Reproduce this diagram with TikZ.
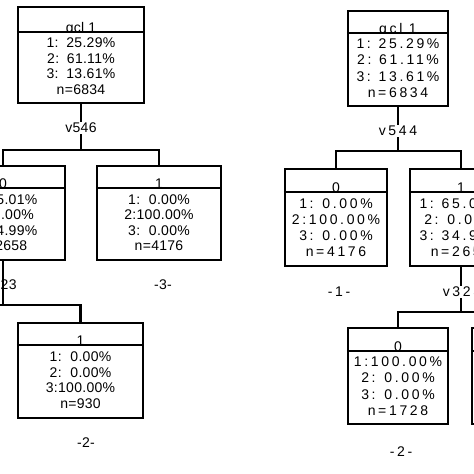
\documentclass[tikz,border=0pt]{standalone}
\usepackage{fontspec}
\setmainfont{Liberation Sans}
\newfontfamily\lfont[LetterSpace=2]{Liberation Sans}
\newfontfamily\rfont[LetterSpace=19]{Liberation Sans}
\usetikzlibrary{calc}
\newcommand{\pd}{\hphantom{1}\hspace{1pt}}
\tikzset{
  frame/.style={line width=2.4pt},
  boxframe/.style={draw, line width=2.4pt, fill=white, inner sep=0pt, rectangle},
  conn/.style={line width=2.4pt},
  lt/.style={font=\lfont\fontsize{14}{15.5}\selectfont},
  rt/.style={font=\rfont\fontsize{14}{16.3}\selectfont},
  clab/.style={fill=white, inner sep=1pt},
}
\newcommand{\tbox}[9]{%
  \node[boxframe, minimum width=#4pt, minimum height=#6pt, anchor=north] (#1) at (#2,#3) {};
  \coordinate (#1-s) at (#2,#3+#5);
  \begin{scope}
    \clip ($(#1.north west)+(1.2,1.2)$) rectangle ($(#1-s -| #1.east)+(-1.2,0)$);
    \node[#9, anchor=base, inner sep=0pt] (#1-h) at ($(#1-s)+(0,0)$) {#7};
  \end{scope}
  \draw[frame] (#1.west |- #1-s) -- (#1.east |- #1-s);
  \node[#9, align=center, inner sep=0pt] (#1-b) at ($(#1-s)!.5!(#1.south)+(0,-2)$) {#8};
}
\begin{document}
\begin{tikzpicture}[x=1pt,y=-1pt]
\useasboundingbox (0,0) rectangle (474,474);
\clip (0,0) rectangle (474,474);
\fill[white] (0,0) rectangle (474,474);

% ---------- left tree ----------
\tbox{LR}{81}{6}{126}{26}{96}{gcl 1}{1:\hphantom{1}25.29\%\\2:\hphantom{1}61.11\%\\3:\hphantom{1}13.61\%\\n=6834}{lt}
\tbox{LA}{3}{165}{124}{23}{94}{0}{1:\hphantom{1}65.01\%\\2:\pd0.00\%\\3:\hphantom{1}34.99\%\\n=2658}{lt}
\tbox{LB}{159}{165}{124}{23}{94}{1}{1:\pd0.00\%\\2:100.00\%\\3:\pd0.00\%\\n=4176}{lt}
\tbox{LC}{80.5}{322}{125}{23}{95}{1}{1:\pd0.00\%\\2:\pd0.00\%\\3:100.00\%\\n=930}{lt}

\coordinate (Lbar) at (0,150);
\draw[conn] (LR.south) -- (LR.south |- Lbar) -| (LA.north);
\draw[conn] (LR.south |- Lbar) -| (LB.north);
\node[lt, clab] (lv546) at (81,128) {v546};
\coordinate (Lbar2) at (-10,305);
\draw[conn] (LA.south) -- (LA.south |- Lbar2);
\draw[conn] (Lbar2) -| (LC.north);
\node[lt, inner sep=0pt] (lv323) at (1,285) {v323};
\node[lt] (l3) at (163,285) {-3-};
\node[lt] (l2) at (86,443) {-2-};

% ---------- right tree ----------
\tbox{RR}{398}{10}{100}{23}{95}{gcl 1}{1:\hphantom{1}25.29\%\\2:\hphantom{1}61.11\%\\3:\hphantom{1}13.61\%\\n=6834}{rt}
\tbox{RA}{336}{168}{102}{24}{97}{0}{1:\pd0.00\%\\2:100.00\%\\3:\pd0.00\%\\n=4176}{rt}
\tbox{RB}{461}{168}{102}{24}{97}{1}{1:\hphantom{1}65.01\%\\2:\pd0.00\%\\3:\hphantom{1}34.99\%\\n=2658}{rt}
\tbox{RC}{398}{327}{100}{24}{96}{0}{1:100.00\%\\2:\pd0.00\%\\3:\pd0.00\%\\n=1728}{rt}
\tbox{RD}{523}{327}{102}{24}{96}{1}{1:\pd0.00\%\\2:\pd0.00\%\\3:100.00\%\\n=930}{rt}

\coordinate (Rbar) at (0,151);
\draw[conn] (RR.south) -- (RR.south |- Rbar) -| (RA.north);
\draw[conn] (RR.south |- Rbar) -| (RB.north);
\node[rt, clab] (rv544) at (398,131) {v544};
\coordinate (Rbar2) at (0,312);
\draw[conn] (RB.south) -- (RB.south |- Rbar2) -| (RC.north);
\draw[conn] (RB.south |- Rbar2) -| (RD.north);
\node[rt, clab] (rv323) at (462,292) {v323};
\node[rt] (r1) at (339,292) {-1-};
\node[rt] (r2) at (401,452) {-2-};
\end{tikzpicture}
\end{document}
